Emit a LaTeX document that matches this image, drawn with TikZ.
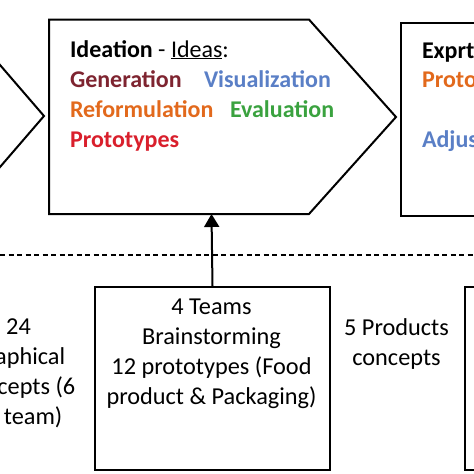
\documentclass[tikz,border=0pt]{standalone}
\usepackage{fontspec}
\setmainfont{Carlito}
\usetikzlibrary{arrows.meta}
\definecolor{cGen}{HTML}{7E2430}
\definecolor{cVis}{HTML}{5A7FC6}
\definecolor{cRef}{HTML}{E2691C}
\definecolor{cEva}{HTML}{3AA23F}
\definecolor{cPro}{HTML}{D91F2C}
\begin{document}
\begin{tikzpicture}[x=1pt,y=-1pt,line width=2pt,
  txt/.style={inner sep=0pt,font=\fontsize{24.3}{30}\selectfont},
  lbl/.style={inner sep=0pt,anchor=base west,font=\fontsize{24}{30}\selectfont\bfseries},
  box/.style={draw,inner sep=0pt,anchor=north west},
  sep/.style={dash pattern=on 5pt off 3.5pt,line width=1.8pt}]
\useasboundingbox (0,0) rectangle (474,474);
\clip (0,0) rectangle (474,474);
% left chevron (previous stage)
\coordinate (cA) at (-6,58);
\coordinate (cB) at (44,116);
\coordinate (cC) at (-6,174);
\draw[line join=miter] (cA) -- (cB) -- (cC);
% ideation pentagon
\coordinate (p1) at (49,19.5);
\coordinate (p2) at (309,19.5);
\coordinate (p3) at (396,117);
\coordinate (p4) at (309,214);
\coordinate (p5) at (49,214);
\draw[line join=miter] (p1) -- (p2) -- (p3) -- (p4) -- (p5) -- cycle;
\coordinate (ideaS) at (211.5,214);
% right top box
\node[box,minimum width=100pt,minimum height=193pt] (exprt) at (400,22) {};
% texts ideation
\node[lbl] (tIdea) at (69,57) {Ideation \mdseries - \underline{Ideas}:};
\node[lbl,text=cGen] (tGen) at (69,87) {Generation};
\node[lbl,text=cVis] (tVis) at (203,87) {Visualization};
\node[lbl,text=cRef] (tRef) at (69,117) {Reformulation};
\node[lbl,text=cEva] (tEva) at (229,117) {Evaluation};
\node[lbl,text=cPro] (tPro) at (69,147) {Prototypes};
% texts right box
\node[lbl] (tExp) at (421,58) {Exprt};
\node[lbl,text=cRef] (tProt) at (421,87) {Proto};
\node[lbl,text=cVis] (tAdj) at (421,147) {Adjus};
% separator
\coordinate (dL) at (0,255);
\coordinate (dR) at (474,255);
\draw[sep] (dL) -- (dR);
% bottom boxes
\node[box,minimum width=235pt,minimum height=183pt] (brain) at (94,286) {};
\node[box,minimum width=40pt,minimum height=183pt] (last) at (464,286) {};
\node[txt,align=center,anchor=base] (tBrain) at (211.5,404) {4 Teams\\Brainstorming\\12 prototypes (Food\\product \& Packaging)};
\node[txt,align=center,anchor=base] (tLeft) at (18.5,424) {24\\Graphical\\concepts (6\\by team)};
\node[txt,align=center,anchor=base] (tRight) at (396.5,365) {5 Products\\concepts};
% arrow
\draw[-{Triangle[width=15pt,length=13pt]}] (brain.north) -- (ideaS);
\end{tikzpicture}
\end{document}
